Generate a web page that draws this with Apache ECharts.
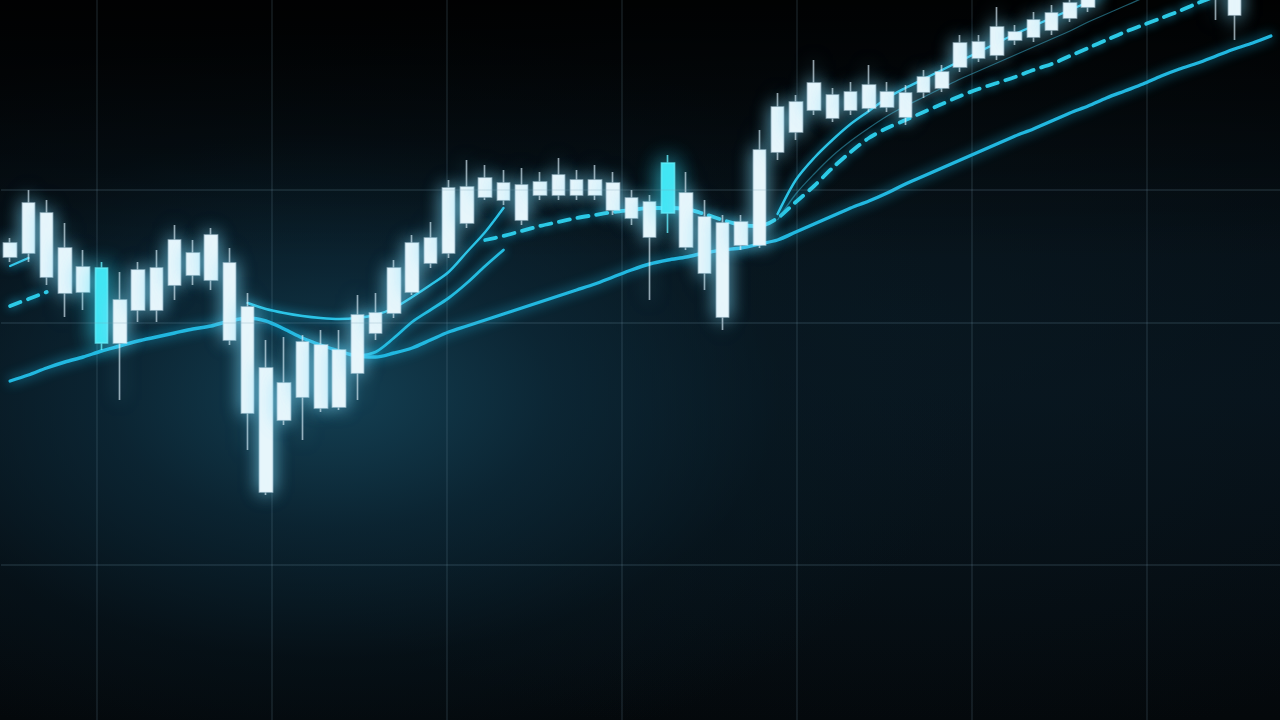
<!DOCTYPE html>
<html><head><meta charset="utf-8">
<script src="https://cdn.jsdelivr.net/npm/echarts@6/dist/echarts.min.js"></script>
<style>
html,body{margin:0;padding:0;width:1280px;height:720px;overflow:hidden;background:#03070a}
#chart{width:1280px;height:720px;
background:
 linear-gradient(to bottom, rgba(0,0,0,0.85) 0%, rgba(0,0,0,0.4) 18%, rgba(0,0,0,0) 36%),
 radial-gradient(ellipse 50% 52% at 26% 55%, rgba(20,66,86,0.95) 0%, rgba(13,44,60,0.72) 35%, rgba(8,26,36,0.38) 70%, rgba(6,16,24,0) 100%),
 radial-gradient(ellipse 60% 60% at 70% 45%, rgba(10,28,38,0.6) 0%, rgba(6,16,24,0) 100%),
 linear-gradient(to bottom, #04080b 0%, #071119 55%, #04080b 100%);}
</style></head>
<body><div id="chart"></div>
<script>
// ---- data ----
const categories = [1,2,3,4,5,6,7,8,9,10,11,12,13,14,15,16,17,18,19,20,21,22,23,24,25,26,27,28,29,30,31,32,33,34,35,36,37,38,39,40,41,42,43,44,45,46,47,48,49,50,51,52,53,54,55,56,57,58,59,60,61,62,63,64,65,66,67,68,69,70];
// [open, close, low, high]
const ohlc = [
 [46.3,47.7,45.8,48.2],[46.7,51.7,45.8,53.0],[50.7,44.3,43.5,52.0],[47.2,42.7,40.3,49.7],[42.8,45.3,41.0,47.0],
 [45.2,37.7,37.0,45.8],[37.7,42.0,32.0,44.8],[41.0,45.0,39.8,45.8],[45.2,41.0,39.8,47.0],[43.5,48.0,42.0,49.5],
 [46.7,44.5,43.5,48.0],[44.0,48.5,43.0,49.2],[45.7,38.0,37.5,47.2],[41.3,30.7,27.0,42.7],[35.2,22.8,22.5,38.0],
 [30.0,33.7,29.5,38.3],[32.3,37.8,28.0,38.5],[37.5,31.2,30.8,39.0],[31.3,37.0,31.0,39.0],[34.7,40.5,32.0,42.5],
 [38.7,40.7,38.0,42.7],[40.7,45.2,40.2,46.0],[42.8,47.7,42.5,48.5],[45.7,48.2,45.2,49.8],[46.7,53.2,46.2,54.0],
 [49.7,53.3,49.2,56.0],[52.3,54.2,52.0,55.5],[53.7,52.0,51.5,55.0],[53.5,50.0,49.5,55.2],[52.5,53.8,52.0,54.8],
 [52.5,54.5,52.0,56.2],[54.0,52.5,52.0,55.0],[52.5,54.0,52.0,55.5],[53.7,51.0,50.5,54.8],[52.2,50.2,49.5,53.0],
 [51.8,48.3,42.0,52.5],[50.7,55.7,48.7,56.5],[52.7,47.3,47.0,54.8],[50.3,44.7,43.0,52.0],[49.7,40.3,39.0,50.5],
 [47.5,49.8,47.0,50.5],[47.5,57.0,47.2,59.0],[56.8,61.3,56.0,62.7],[61.8,58.8,58.0,62.5],[61.0,63.7,60.5,66.0],
 [62.5,60.2,59.8,63.2],[61.0,62.8,60.5,63.8],[61.2,63.5,60.8,65.5],[62.8,61.3,60.8,63.8],[62.7,60.3,59.5,63.5],
 [62.8,64.3,62.2,65.0],[63.2,64.8,62.8,65.5],[65.3,67.7,64.8,68.5],[66.2,67.8,65.8,68.5],[66.5,69.3,66.0,71.3],
 [68.8,68.0,67.5,69.5],[68.3,70.0,67.8,70.8],[69.0,70.7,68.5,71.5],[70.2,71.7,69.8,72.5],[71.3,73.0,70.8,74.0],
 [73.0,75.0,72.3,76.0],[74.0,76.0,73.2,77.0],[75.0,77.0,74.2,78.0],[75.5,77.5,74.8,78.2],[78.0,76.0,75.3,78.6],
 [77.0,75.0,73.5,78.0],[75.0,73.0,70.0,76.0],[73.0,70.5,68.0,74.0],[73.5,75.5,72.8,76.5],[75.0,77.0,74.2,78.0]
];
const highlighted = [5, 36];
const maLong = [33.9,34.5,35.2,35.8,36.3,36.9,37.4,37.9,38.3,38.7,39.1,39.4,39.9,40.2,39.9,39.1,38.2,37.5,36.9,36.4,
 36.3,36.7,37.2,38.0,38.8,39.4,40.0,40.6,41.2,41.8,42.4,43.0,43.6,44.3,45.0,45.6,46.0,46.3,46.7,47.0,
 47.2,47.6,48.0,48.8,49.6,50.4,51.2,51.9,52.7,53.6,54.4,55.2,56.0,56.8,57.6,58.4,59.1,59.9,60.7,61.4,
 62.2,62.9,63.6,64.4,65.1,65.7,66.4,67.1,67.7,68.4];
const maShort = [45.4,46.2,null,null,null,null,null,null,null,null,null,null,null,41.7,41.1,40.7,40.4,40.2,40.1,40.2,
 40.5,41.2,42.3,43.5,44.8,46.8,48.8,51.2,null,null,null,null,null,null,null,null,null,null,null,null,
 null,null,50.6,54.0,56.2,58.0,59.6,60.9,62.2,63.2,64.1,65.0,65.9,66.8,67.7,68.6,69.4,70.2,71.0,71.8,
 72.7,null,null,null,null,null,null,null,null,null];
const maMidSolid = [null,null,null,null,null,null,null,null,null,null,null,null,null,null,null,null,null,null,null,36.4,
 36.8,38.2,39.8,41.0,42.2,43.7,45.4,47.0,null,null,null,null,null,null,null,null,null,null,null,null,
 null,null,null,null,null,null,null,null,null,null,null,null,null,null,null,null,null,null,null,null,
 null,null,null,null,null,null,null,null,null,null];
const maMid = [41.4,42.1,42.8,null,null,null,null,null,null,null,null,null,null,null,null,null,null,null,null,null,
 null,null,null,null,null,null,48.0,48.4,48.9,49.4,49.8,50.2,50.5,50.8,51.0,51.2,51.2,51.1,50.6,50.0,
 49.5,49.4,50.2,51.8,53.4,55.2,56.8,58.2,59.2,60.0,60.8,61.6,62.4,63.1,63.7,64.3,65.0,65.6,66.4,67.2,
 68.0,68.8,69.5,70.2,70.9,71.7,72.4,null,null,null];
const maFaint = [null,null,null,null,null,null,null,null,null,null,null,null,null,null,null,null,null,null,null,null,
 null,null,null,null,null,null,null,null,null,null,null,null,null,null,null,null,null,null,null,null,
 null,null,50.0,52.6,54.6,56.4,57.9,59.2,60.4,61.4,62.3,63.2,64.1,64.9,65.7,66.5,67.3,68.1,68.9,69.8,
 70.6,71.4,72.2,null,null,null,null,null,null,null];
const gridLevels = [53.0, 39.7, 15.5];

// ---- chart ----
const chart = echarts.init(document.getElementById('chart'), null, {renderer:'canvas'});
const candleData = ohlc.map((v, i) => highlighted.includes(i)
  ? {value: v, itemStyle: {color:'#44e6f3', color0:'#44e6f3', borderColor:'rgba(100,238,250,0.8)', borderColor0:'rgba(100,238,250,0.8)', shadowColor:'rgba(60,230,255,0.95)', shadowBlur:22}}
  : v);
const glowLine = (color, width, blur) => ({color: color, width: width, shadowColor: 'rgba(30,190,235,0.9)', shadowBlur: blur, cap:'round'});

chart.setOption({
  backgroundColor: 'transparent',
  animation: false,
  grid: [
    {left: 1, right: 0, top: 0, bottom: 0, outerBoundsMode: 'none', containLabel: false},
    {left: -78, width: 1400, top: 0, bottom: 0, outerBoundsMode: 'none', containLabel: false}
  ],
  xAxis: [
    {type:'category', gridIndex:0, data: categories, show:false, boundaryGap:true},
    {type:'value', gridIndex:1, min:0, max:8, interval:1,
     axisLine:{show:false}, axisTick:{show:false}, axisLabel:{show:false},
     splitLine:{show:true, lineStyle:{color:'rgba(125,160,180,0.17)', width:1.6}}}
  ],
  yAxis: [
    {type:'value', gridIndex:0, min:0, max:72, show:false, splitLine:{show:false}},
    {type:'value', gridIndex:1, min:0, max:1, show:false, splitLine:{show:false}}
  ],
  series: [
    {type:'scatter', xAxisIndex:1, yAxisIndex:1, data:[], silent:true},
    {name:'MA60', type:'line', data: maLong, smooth:0.3, symbol:'none', z:2,
     lineStyle: glowLine('#22b8e0', 3.4, 12),
     markLine:{silent:true, symbol:['none','none'], label:{show:false}, animation:false,
       lineStyle:{color:'rgba(125,160,180,0.2)', width:1.6, type:'solid', shadowBlur:0},
       data: gridLevels.map(v => ({yAxis: v}))}},
    {name:'MA20', type:'line', data: maMid, smooth:0.3, symbol:'none', z:2,
     lineStyle: Object.assign(glowLine('#2ccae6', 3.8, 10), {type:[11,8]})},
    {name:'MA20b', type:'line', data: maMidSolid, smooth:0.3, symbol:'none', z:2,
     lineStyle: glowLine('#24bce0', 2.8, 10)},
    {name:'MA10', type:'line', data: maFaint, smooth:0.3, symbol:'none', z:2,
     lineStyle: {color:'rgba(60,175,205,0.5)', width:1.3}},
    {name:'MA5', type:'line', data: maShort, smooth:0.3, symbol:'none', z:2,
     lineStyle: glowLine('#2cc4e6', 2.4, 10)},
    {name:'K', type:'candlestick', data: candleData, z:3, barWidth: 13, clip:true,
     itemStyle:{color:'#eef8fb', color0:'#eef8fb', borderColor:'rgba(220,240,250,0.65)', borderColor0:'rgba(220,240,250,0.65)',
       borderWidth:1.7, shadowColor:'rgba(130,225,255,0.8)', shadowBlur:18}}
  ]
});
</script></body></html>
